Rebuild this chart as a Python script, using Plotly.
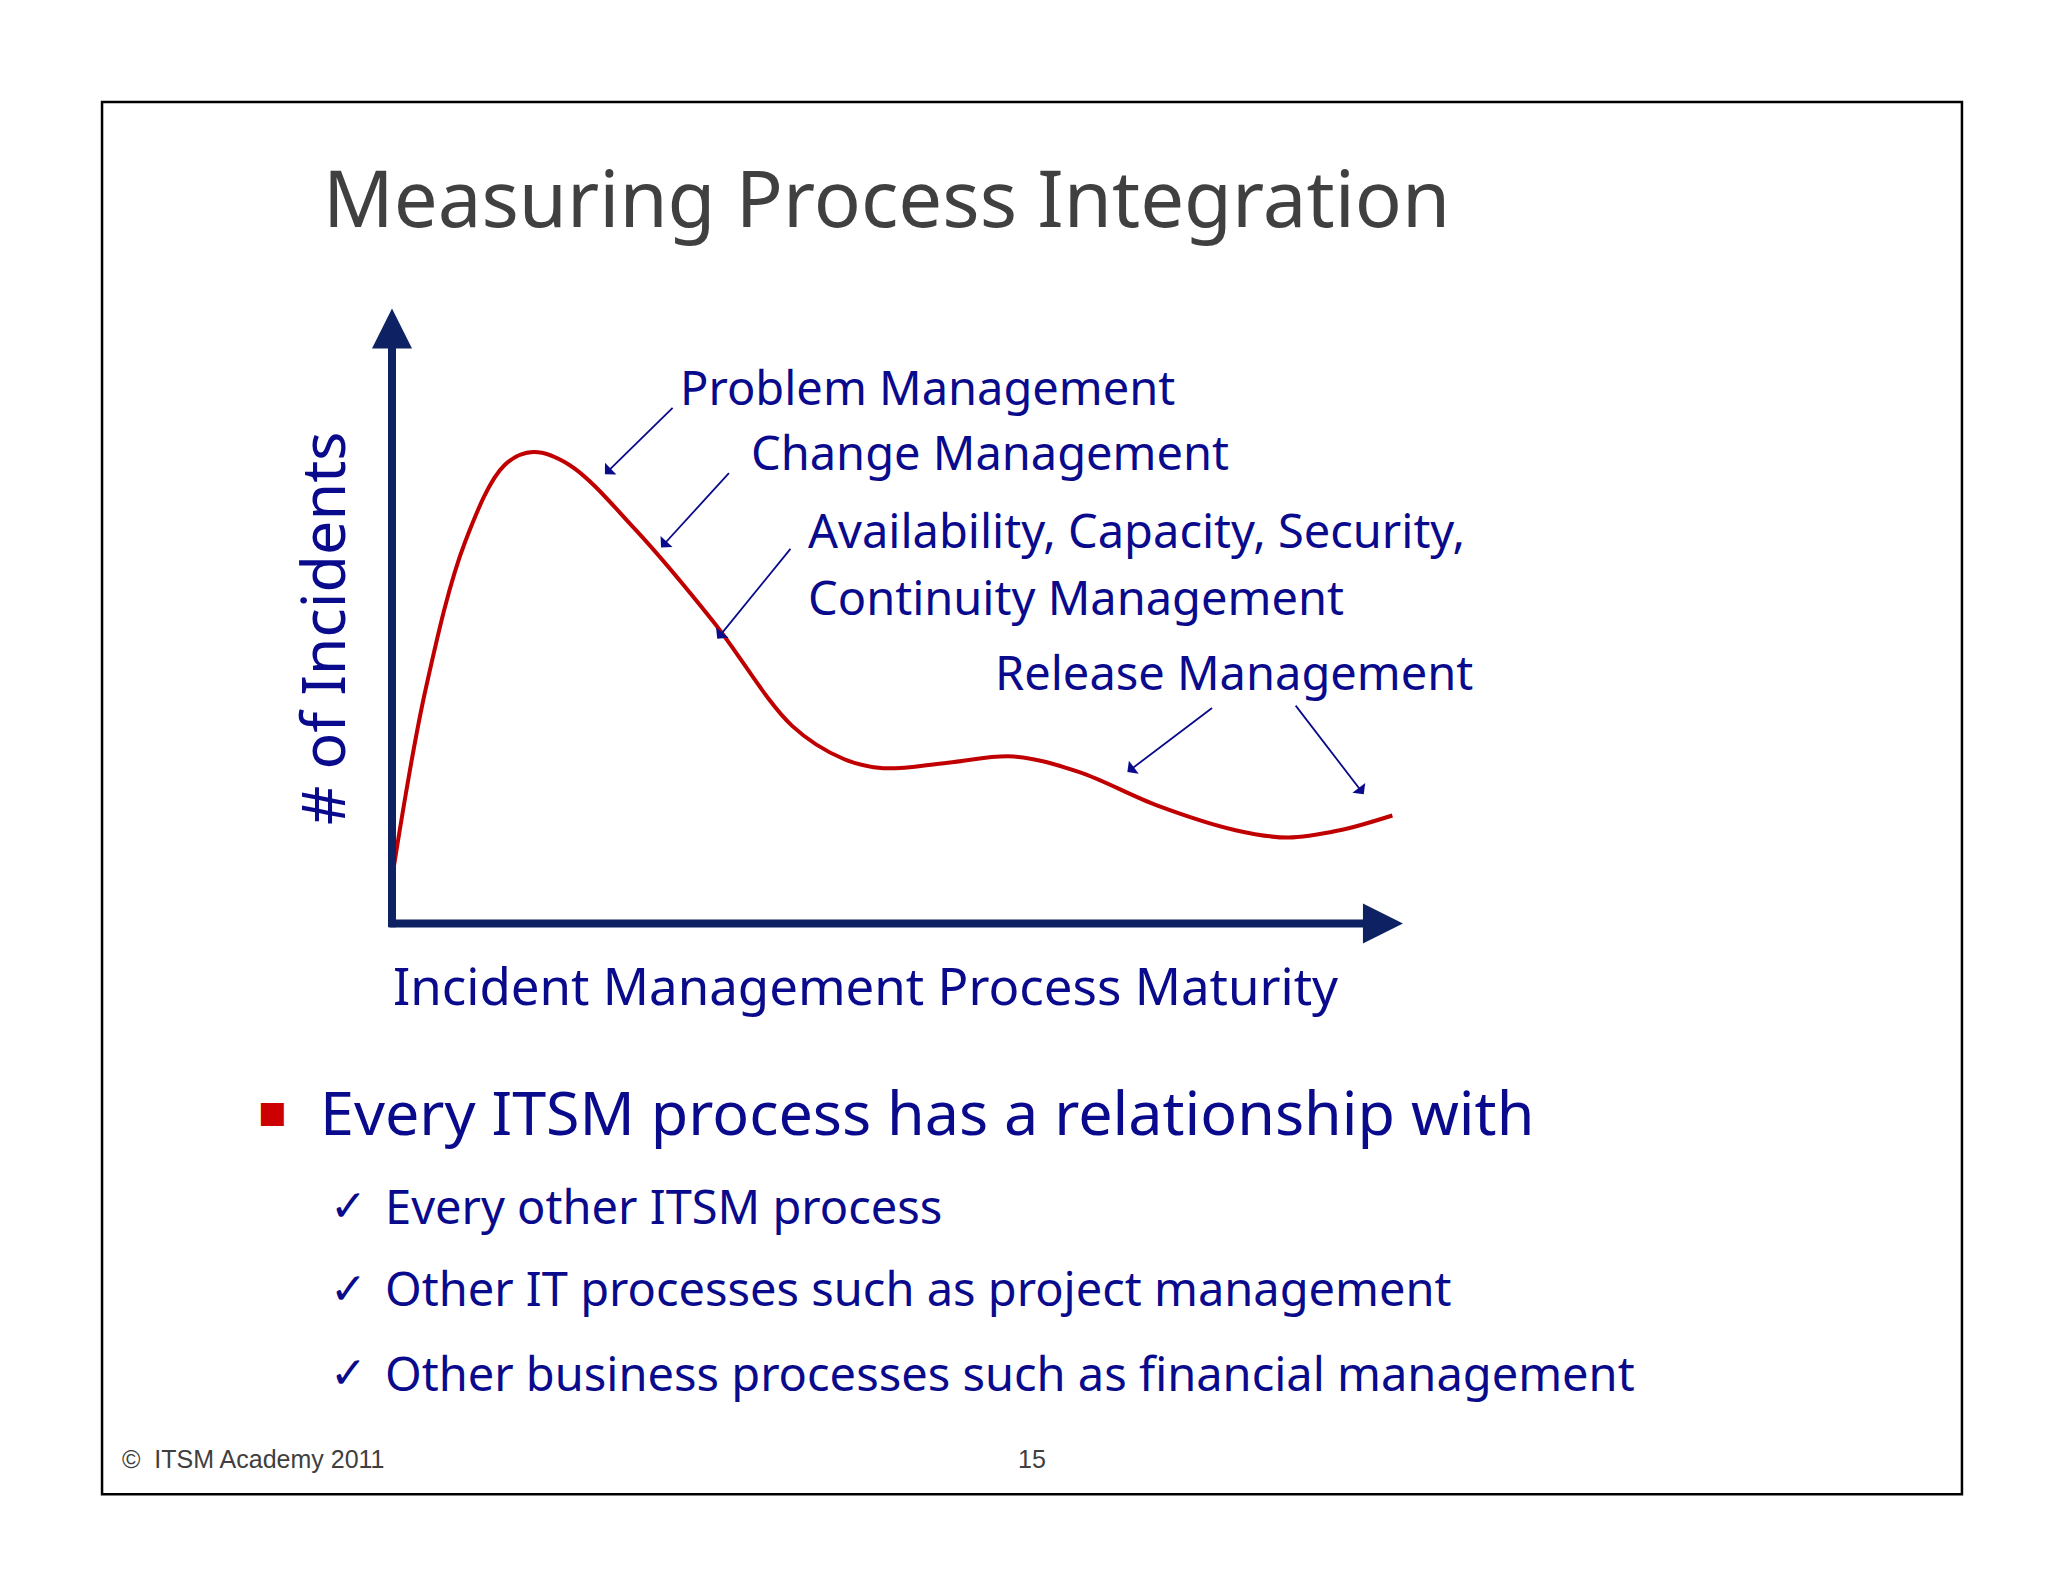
import plotly.graph_objects as go

# curve data (maturity 0..100, incidents 0..100)
maturity = [0, 3.2, 7.1, 11, 13.8, 17.4, 23.9, 31.6, 39.4, 44.5, 48.4, 54.8, 61.3, 67.7, 75.5, 83.2, 88.4, 93.5, 98.7]
incidents = [8.5, 38, 62, 74.5, 76.6, 74.5, 64, 49, 32, 26.6, 25.1, 26, 27, 24.5, 19, 15, 13.8, 15, 17.4]

labels = ["Problem Management", "Change Management", "Availability, Capacity, Security,",
          "Continuity Management", "Release Management"]
checks = ["Every other ITSM process", "Other IT processes such as project management",
          "Other business processes such as financial management"]

W, H = 2048, 1582
S = W / 1568.0
NAVY = "#0a0a8c"
AXIS = "#0d2163"
FONT = "Noto Sans, sans-serif"


def px(dx):
    return dx * S / W


def py(dy):
    return 1 - dy * S / H


fig = go.Figure()
fig.add_trace(go.Scatter(x=maturity, y=incidents, mode="lines", line=dict(color="#c00000", width=4, shape="spline"),
                         hoverinfo="skip"))

fig.update_layout(width=W, height=H, margin=dict(l=0, r=0, t=0, b=0), showlegend=False,
                  paper_bgcolor="white", plot_bgcolor="white",
                  xaxis=dict(domain=[px(295), px(1070)], range=[0, 100], visible=False),
                  yaxis=dict(domain=[py(700), py(230)], range=[0, 100], visible=False))

ann = []
# axes arrows (paper coords, tail offset in pixels)
ann.append(dict(x=px(1068), y=py(701), xref="paper", yref="paper", ax=-(1068 - 291) * S, ay=0, text="",
                showarrow=True, arrowhead=2, arrowsize=1.0, arrowwidth=8, arrowcolor=AXIS))
ann.append(dict(x=px(294), y=py(230), xref="paper", yref="paper", ax=0, ay=(705 - 230) * S, text="",
                showarrow=True, arrowhead=2, arrowsize=1.0, arrowwidth=8, arrowcolor=AXIS))

# pointer arrows (tip, tail) in displayed coords
pointers = [((457, 357), (510, 305)), ((500, 413), (553, 355)), ((543, 483), (600, 413)),
            ((857, 585), (923, 535)), ((1038, 602), (985, 533))]
for (tx, ty), (sx, sy) in pointers:
    ann.append(dict(x=px(tx), y=py(ty), xref="paper", yref="paper", ax=(sx - tx) * S, ay=(sy - ty) * S,
                    text="", showarrow=True, arrowhead=1, arrowsize=1.5, arrowwidth=1.8, arrowcolor=NAVY))

label_pos = [(513, 290), (567, 340), (611, 400), (611, 451), (754, 508)]
for t, (x, y) in zip(labels, label_pos):
    ann.append(dict(x=px(x), y=py(y), xref="paper", yref="paper", text=t, showarrow=False,
                    xanchor="left", yanchor="middle", font=dict(family=FONT, size=47, color=NAVY)))

ann.append(dict(x=px(240), y=py(145), xref="paper", yref="paper", text="Measuring Process Integration",
                showarrow=False, xanchor="left", yanchor="middle", font=dict(family=FONT, size=78, color="#404040")))
ann.append(dict(x=px(240), y=py(475), xref="paper", yref="paper", text="# of Incidents", textangle=-90,
                showarrow=False, xanchor="center", yanchor="middle", font=dict(family=FONT, size=61, color=NAVY)))
ann.append(dict(x=px(293), y=py(748), xref="paper", yref="paper", text="Incident Management Process Maturity",
                showarrow=False, xanchor="left", yanchor="middle", font=dict(family=FONT, size=51, color=NAVY)))
ann.append(dict(x=px(190), y=py(845), xref="paper", yref="paper", text="■",
                showarrow=False, xanchor="left", yanchor="middle", font=dict(family="DejaVu Sans", size=30, color="#cc0000")))
ann.append(dict(x=px(237), y=py(845), xref="paper", yref="paper", text="Every ITSM process has a relationship with",
                showarrow=False, xanchor="left", yanchor="middle", font=dict(family=FONT, size=61, color=NAVY)))
for i, t in enumerate(checks):
    y = [917, 980, 1045][i]
    ann.append(dict(x=px(245), y=py(y), xref="paper", yref="paper", text="✓",
                    showarrow=False, xanchor="left", yanchor="middle", font=dict(family="DejaVu Sans", size=44, color=NAVY)))
    ann.append(dict(x=px(287), y=py(y), xref="paper", yref="paper", text=t,
                    showarrow=False, xanchor="left", yanchor="middle", font=dict(family=FONT, size=47, color=NAVY)))
ann.append(dict(x=px(86), y=py(1111), xref="paper", yref="paper", text="©  ITSM Academy 2011",
                showarrow=False, xanchor="left", yanchor="middle", font=dict(family="Liberation Sans", size=25, color="#404040")))
ann.append(dict(x=px(784), y=py(1111), xref="paper", yref="paper", text="15",
                showarrow=False, xanchor="center", yanchor="middle", font=dict(family="Liberation Sans", size=25, color="#404040")))
fig.update_layout(annotations=ann)

fig.add_shape(type="rect", xref="paper", yref="paper", x0=px(72), x1=px(1496), y0=py(1138), y1=py(72),
              line=dict(color="black", width=2.5))

fig.write_html("out.html")
